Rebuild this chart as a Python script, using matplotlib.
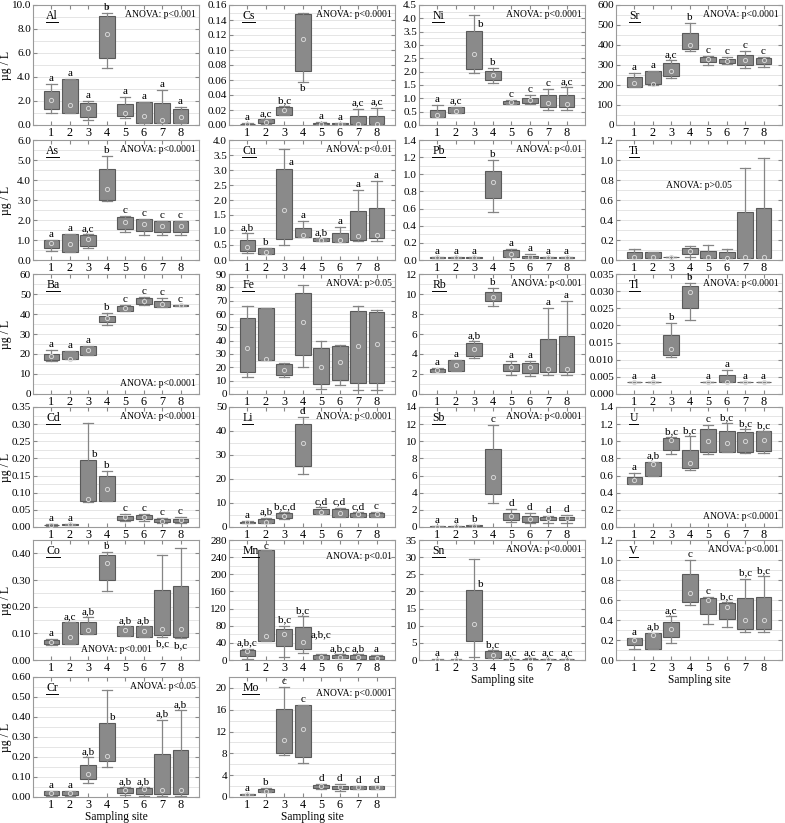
import numpy as np
import matplotlib.pyplot as plt
from matplotlib.lines import Line2D
from matplotlib.ticker import MultipleLocator, FormatStrFormatter

plt.rcParams['font.family'] = ['Liberation Serif', 'DejaVu Serif']

sites = [1, 2, 3, 4, 5, 6, 7, 8]

# each site: (low whisker, q1, median, q3, high whisker)
al = [(1.0, 1.35, 2.1, 2.86, 3.4), (1.0, 1.03, 1.65, 3.83, 3.83), (0.42, 0.69, 1.44, 1.86, 2.03),
      (4.72, 5.6, 7.6, 9.08, 9.3), (0.6, 0.78, 1.03, 1.72, 2.36), (0.14, 0.14, 0.75, 1.92, 1.92),
      (0.14, 0.14, 0.42, 1.8, 2.92), (0.14, 0.14, 0.64, 1.3, 1.53)]
cs = [(0.0005, 0.001, 0.0012, 0.002, 0.0025), (0.002, 0.003, 0.004, 0.008, 0.008),
      (0.014, 0.014, 0.0195, 0.0235, 0.025), (0.058, 0.072, 0.115, 0.148, 0.150),
      (0.001, 0.001, 0.002, 0.003, 0.0035), (0.001, 0.001, 0.002, 0.003, 0.003),
      (0.001, 0.001, 0.002, 0.012, 0.022), (0.001, 0.001, 0.002, 0.012, 0.023)]
ni = [(0.29, 0.31, 0.375, 0.56, 0.75), (0.44, 0.44, 0.51, 0.69, 0.69), (1.96, 2.1, 2.65, 3.54, 4.12),
      (1.59, 1.69, 1.86, 2.02, 2.15), (0.78, 0.8, 0.85, 0.89, 0.94), (0.8, 0.81, 0.94, 1.02, 1.12),
      (0.56, 0.69, 0.81, 1.11, 1.36), (0.56, 0.68, 0.78, 1.11, 1.41)]
sr = [(188, 192, 212, 242, 260), (200, 205, 207, 272, 272), (235, 245, 272, 310, 325),
      (370, 380, 400, 458, 510), (300, 315, 328, 340, 345), (305, 312, 322, 332, 338),
      (285, 300, 325, 350, 368), (290, 305, 325, 335, 340)]
as_ = [(0.45, 0.61, 0.86, 0.98, 0.98), (0.41, 0.41, 0.78, 1.28, 1.28), (0.58, 0.70, 1.03, 1.23, 1.28),
       (2.97, 3.02, 3.57, 4.54, 5.2), (1.41, 1.56, 1.9, 2.15, 2.2), (1.23, 1.44, 1.81, 2.07, 2.07),
       (1.23, 1.38, 1.69, 1.94, 1.94), (1.23, 1.38, 1.72, 1.94, 1.94)]
cu = [(0.22, 0.29, 0.44, 0.68, 0.89), (0.19, 0.19, 0.27, 0.40, 0.40), (0.51, 0.70, 1.66, 3.04, 3.7),
      (0.78, 0.78, 0.82, 1.06, 1.31), (0.62, 0.62, 0.68, 0.73, 0.73), (0.6, 0.6, 0.68, 0.89, 1.09),
      (0.62, 0.68, 0.81, 1.63, 2.34), (0.64, 0.73, 0.84, 1.73, 2.64)]
pb = [(0.025, 0.028, 0.03, 0.032, 0.035), (0.025, 0.028, 0.03, 0.032, 0.035),
      (0.025, 0.028, 0.03, 0.032, 0.035), (0.56, 0.72, 0.91, 1.04, 1.17),
      (0.04, 0.04, 0.065, 0.12, 0.127), (0.027, 0.027, 0.035, 0.046, 0.065),
      (0.025, 0.028, 0.03, 0.032, 0.035), (0.025, 0.028, 0.03, 0.032, 0.035)]
ti = [(0.023, 0.023, 0.033, 0.076, 0.115), (0.023, 0.023, 0.03, 0.082, 0.082),
      (0.028, 0.028, 0.03, 0.032, 0.032), (0.026, 0.056, 0.092, 0.122, 0.138),
      (0.023, 0.023, 0.026, 0.092, 0.148), (0.023, 0.023, 0.025, 0.076, 0.115),
      (0.023, 0.023, 0.026, 0.477, 0.92), (0.023, 0.023, 0.026, 0.516, 1.02)]
ba = [(16.3, 17.1, 18.8, 20.2, 21.8), (17.6, 17.6, 17.6, 21.3, 21.3), (19.3, 19.7, 22.2, 23.9, 24.2),
      (34.5, 35.8, 37.8, 39.2, 40.3), (41.7, 41.7, 43.2, 44.2, 44.5), (44.5, 44.9, 46.7, 47.9, 48.7),
      (43.4, 43.7, 44.9, 46.6, 47.9), (44.0, 44.1, 44.3, 44.5, 44.6)]
fe = [(12.6, 16.4, 34.5, 57.2, 66.3), (25.7, 25.7, 26.5, 64.3, 64.3), (12.6, 13.9, 18.1, 22.2, 23.2),
      (20.2, 29, 53.7, 75.6, 81.4), (3.8, 7.6, 20.2, 34.5, 39.6), (6.8, 10.6, 24, 35.8, 36.6),
      (3, 8.3, 36, 62.5, 66.3), (3, 8.1, 37.3, 61.8, 63)]
rb = [(2.15, 2.18, 2.35, 2.52, 2.55), (2.29, 2.29, 2.86, 3.36, 3.36), (3.6, 3.8, 4.54, 5.14, 5.28),
      (8.84, 9.3, 9.75, 10.25, 10.6), (1.92, 2.25, 2.69, 3.03, 3.29), (1.75, 2.12, 2.69, 3.13, 3.26),
      (1.92, 2.18, 2.52, 5.48, 8.57), (1.85, 2.18, 2.52, 5.82, 9.31)]
tl = [(0.0034, 0.0035, 0.0035, 0.0035, 0.0036), (0.0034, 0.0035, 0.0035, 0.0035, 0.0036),
      (0.0108, 0.0115, 0.0132, 0.0172, 0.0206), (0.0216, 0.0252, 0.0297, 0.0314, 0.0324),
      (0.0034, 0.0035, 0.0035, 0.0035, 0.0036), (0.0034, 0.0034, 0.0036, 0.0054, 0.0071),
      (0.0034, 0.0035, 0.0035, 0.0035, 0.0036), (0.0034, 0.0035, 0.0035, 0.0035, 0.0036)]
cd = [(0.004, 0.005, 0.006, 0.007, 0.008), (0.006, 0.007, 0.008, 0.009, 0.009),
      (0.072, 0.075, 0.083, 0.194, 0.304), (0.075, 0.075, 0.111, 0.150, 0.164),
      (0.017, 0.020, 0.030, 0.032, 0.037), (0.017, 0.022, 0.030, 0.036, 0.038),
      (0.0115, 0.0145, 0.018, 0.022, 0.027), (0.0115, 0.0145, 0.02, 0.024, 0.030)]
li = [(1.5, 1.8, 2.0, 2.2, 2.4), (1.8, 1.8, 2.1, 3.5, 3.9), (3.5, 3.6, 4.6, 6.0, 6.3),
      (22.1, 25.6, 34.9, 43, 45.8), (5.3, 5.3, 6.4, 7.7, 8.3), (4.0, 4.3, 6.0, 7.7, 8.0),
      (4.1, 4.3, 5.3, 6.0, 6.3), (4.0, 4.3, 5.3, 6.0, 6.3)]
sb = [(0.02, 0.03, 0.05, 0.07, 0.08), (0.03, 0.05, 0.07, 0.09, 0.1), (0.05, 0.07, 0.1, 0.18, 0.2),
      (2.82, 3.86, 5.79, 9.07, 11.9), (0.58, 0.81, 1.27, 1.66, 2.05), (0.42, 0.62, 0.97, 1.27, 1.58),
      (0.5, 0.77, 1.08, 1.2, 1.27), (0.42, 0.77, 1.08, 1.2, 1.35)]
u = [(0.505, 0.505, 0.544, 0.582, 0.629), (0.6, 0.6, 0.733, 0.764, 0.764), (0.85, 0.9, 1.014, 1.04, 1.045),
     (0.66, 0.694, 0.744, 0.9, 1.06), (0.85, 0.88, 1.0, 1.14, 1.19), (0.87, 0.88, 0.98, 1.12, 1.21),
     (0.86, 0.88, 1.0, 1.11, 1.14), (0.86, 0.887, 1.014, 1.115, 1.12)]
co = [(0.058, 0.06, 0.066, 0.076, 0.078), (0.06, 0.06, 0.085, 0.143, 0.143), (0.097, 0.097, 0.112, 0.141, 0.16),
      (0.259, 0.299, 0.363, 0.393, 0.405), (0.091, 0.091, 0.112, 0.128, 0.128), (0.088, 0.088, 0.11, 0.126, 0.126),
      (0.088, 0.093, 0.118, 0.263, 0.393), (0.081, 0.088, 0.118, 0.278, 0.42)]
mn = [(2.3, 10, 20, 23, 26.8), (44.5, 44.5, 56, 257.8, 257.8), (7.7, 33, 61.4, 71.3, 80.5),
      (16, 25.3, 43, 77.5, 102), (2.3, 2.3, 6, 11.5, 13), (3.8, 3.8, 6, 11.5, 13),
      (1, 2.3, 6, 11.5, 13.8), (1, 2.3, 5.4, 9.2, 12.3)]
sn = [(0.05, 0.08, 0.1, 0.12, 0.15), (0.05, 0.08, 0.1, 0.12, 0.15), (0.8, 5.5, 10.6, 20.3, 29.6),
      (0.6, 0.6, 1.6, 2.7, 2.9), (0.1, 0.15, 0.2, 0.3, 0.4), (0.1, 0.15, 0.25, 0.35, 0.45),
      (0.1, 0.15, 0.2, 0.3, 0.35), (0.1, 0.15, 0.2, 0.3, 0.35)]
v = [(0.108, 0.148, 0.2, 0.224, 0.224), (0.115, 0.115, 0.247, 0.273, 0.273), (0.174, 0.233, 0.306, 0.378, 0.437),
     (0.552, 0.579, 0.674, 0.865, 1.0), (0.362, 0.464, 0.6, 0.625, 0.63), (0.329, 0.414, 0.529, 0.569, 0.58),
     (0.279, 0.312, 0.398, 0.618, 0.815), (0.279, 0.306, 0.398, 0.628, 0.838)]
cr = [(0.005, 0.008, 0.02, 0.028, 0.032), (0.006, 0.011, 0.022, 0.03, 0.032), (0.07, 0.09, 0.115, 0.158, 0.198),
      (0.15, 0.182, 0.207, 0.37, 0.535), (0.012, 0.02, 0.037, 0.045, 0.05), (0.007, 0.017, 0.04, 0.045, 0.05),
      (0.003, 0.017, 0.037, 0.215, 0.387), (0.003, 0.015, 0.035, 0.237, 0.433)]
mo = [(0.4, 0.45, 0.5, 0.55, 0.6), (0.85, 0.85, 1.03, 1.5, 1.6), (7.7, 8.1, 10.4, 16.2, 20.2),
      (6.2, 7.3, 12.5, 16.8, 16.9), (1.45, 1.64, 2.06, 2.24, 2.4), (1.03, 1.45, 1.82, 2.06, 2.36),
      (1.45, 1.5, 1.75, 1.94, 2.0), (1.45, 1.5, 1.75, 1.94, 2.0)]

# post-hoc group letters per site
letters = {
    'Al': ['a', 'a', 'a', 'b', 'a', 'a', 'a', 'a'],
    'Cs': ['a', 'a,c', 'b,c', 'b', 'a', 'a', 'a,c', 'a,c'],
    'Ni': ['a', 'a,c', 'b', 'b', 'c', 'c', 'c', 'a,c'],
    'Sr': ['a', 'a', 'a,c', 'b', 'c', 'c', 'c', 'c'],
    'As': ['a', 'a', 'a,c', 'b', 'c', 'c', 'c', 'c'],
    'Cu': ['a,b', 'b', 'a', 'a', 'a,b', 'a', 'a', 'a'],
    'Pb': ['a', 'a', 'a', 'b', 'a', 'a', 'a', 'a'],
    'Ti': [''] * 8,
    'Ba': ['a', 'a', 'a', 'b', 'c', 'c', 'c', 'c'],
    'Fe': [''] * 8,
    'Rb': ['a', 'a', 'a,b', 'b', 'a', 'a', 'a', 'a'],
    'Tl': ['a', 'a', 'b', 'b', 'a', 'a', 'a', 'a'],
    'Cd': ['a', 'a', 'b', 'b', 'c', 'c', 'c', 'c'],
    'Li': ['a', 'a,b', 'b,c,d', 'd', 'c,d', 'c,d', 'c,d', 'c'],
    'Sb': ['a', 'a', 'b', 'c', 'd', 'd', 'd', 'd'],
    'U': ['a', 'a,b', 'b,c', 'b,c', 'c', 'b,c', 'b,c', 'b,c'],
    'Co': ['a', 'a,c', 'a,b', 'b', 'a,b', 'a,b', 'b,c', 'b,c'],
    'Mn': ['a,b,c', 'c', 'b,c', 'b,c', 'a,b,c', 'a,b,c', 'a,b', 'a'],
    'Sn': ['a', 'a', 'b', 'b,c', 'a,c', 'a,c', 'a,c', 'a,c'],
    'V': ['a', 'a,b', 'a,c', 'c', 'c', 'b,c', 'b,c', 'b,c'],
    'Cr': ['a', 'a', 'a,b', 'b', 'a,b', 'a,b', 'a,b', 'a,b'],
    'Mo': ['a', 'b', 'c', 'c', 'd', 'd', 'd', 'd'],
}

anova = {'Al': 'p<0.001', 'Cs': 'p<0.0001', 'Ni': 'p<0.0001', 'Sr': 'p<0.0001',
         'As': 'p<0.0001', 'Cu': 'p<0.01', 'Pb': 'p<0.01', 'Ti': 'p>0.05',
         'Ba': 'p<0.0001', 'Fe': 'p>0.05', 'Rb': 'p<0.001', 'Tl': 'p<0.0001',
         'Cd': 'p<0.0001', 'Li': 'p<0.0001', 'Sb': 'p<0.0001', 'U': 'p<0.0001',
         'Co': 'p<0.001', 'Mn': 'p<0.01', 'Sn': 'p<0.0001', 'V': 'p<0.001',
         'Cr': 'p<0.05', 'Mo': 'p<0.0001'}

# y axis: (top, label step, decimals)
yaxes = {'Al': (10, 2, 1), 'Cs': (0.16, 0.02, 2), 'Ni': (4.5, 0.5, 1), 'Sr': (600, 100, 0),
         'As': (6, 1, 1), 'Cu': (4, 0.5, 1), 'Pb': (1.4, 0.2, 1), 'Ti': (1.2, 0.2, 1),
         'Ba': (60, 10, 0), 'Fe': (90, 10, 0), 'Rb': (12, 2, 0), 'Tl': (0.035, 0.005, 3),
         'Cd': (0.35, 0.05, 2), 'Li': (50, 10, 0), 'Sb': (14, 2, 0), 'U': (1.4, 0.2, 1),
         'Co': (0.45, 0.1, 2), 'Mn': (280, 40, 0), 'Sn': (35, 5, 0), 'V': (1.2, 0.2, 1),
         'Cr': (0.6, 0.1, 2), 'Mo': (22, 4, 0)}

grid = [[('Al', al), ('Cs', cs), ('Ni', ni), ('Sr', sr)],
        [('As', as_), ('Cu', cu), ('Pb', pb), ('Ti', ti)],
        [('Ba', ba), ('Fe', fe), ('Rb', rb), ('Tl', tl)],
        [('Cd', cd), ('Li', li), ('Sb', sb), ('U', u)],
        [('Co', co), ('Mn', mn), ('Sn', sn), ('V', v)],
        [('Cr', cr), ('Mo', mo)]]

# where the ANOVA note sits (axes fraction, ha, va)
anova_pos = {'Ba': (0.98, 0.05, 'right', 'bottom'), 'U': (0.98, 0.05, 'right', 'bottom'),
             'Ti': (0.50, 0.62, 'center', 'center'), 'Co': (0.50, 0.05, 'center', 'bottom'),
             'Mn': (0.98, 0.86, 'right', 'center'), 'Mo': (0.98, 0.86, 'right', 'center')}
below = {('Cs', 4), ('Co', 7), ('Co', 8)}
beside = {('Ni', 3), ('Cu', 3), ('Cd', 3), ('Sn', 3), ('Cr', 4)}
lift = {('Mn', 5): 10, ('Mn', 2): -1.5}

W, H = 785, 823
lefts = [33, 229, 419, 616]
tops = [5, 140, 274, 407, 540, 677]
aw, ah = 166, 120

fig = plt.figure(figsize=(W / 100, H / 100), dpi=100)
labels_to_underline = []

for r, row in enumerate(grid):
    for c, (name, data) in enumerate(row):
        ax = fig.add_axes([lefts[c] / W, 1 - (tops[r] + ah) / H, aw / W, ah / H])
        stats = [dict(whislo=d[0], q1=d[1], med=d[2], q3=d[3], whishi=d[4], fliers=[]) for d in data]
        ax.bxp(stats, positions=sites, widths=0.85, patch_artist=True, showfliers=False,
               capwidths=0.55,
               boxprops=dict(facecolor='#8a8a8a', edgecolor='#5a5a5a', linewidth=0.8),
               whiskerprops=dict(color='#858585', linewidth=0.9),
               capprops=dict(color='#858585', linewidth=0.9),
               medianprops=dict(linewidth=0))
        meds = [d[2] for d in data]
        ax.plot(sites, meds, 'o', ms=3, mfc='none', mec='#d6d6d6', mew=0.7, zorder=4)

        top, step, dec = yaxes[name]
        ax.set_xlim(0, 9)
        ax.set_ylim(0, top)
        ax.yaxis.set_major_locator(MultipleLocator(step))
        ax.yaxis.set_minor_locator(MultipleLocator(step / 2))
        ax.yaxis.set_major_formatter(FormatStrFormatter('%.' + str(dec) + 'f'))
        ax.set_xticks(sites)
        ax.set_xticklabels([str(s) for s in sites])
        ax.yaxis.grid(True, which='both', color='#e0e0e0', linewidth=0.6)
        ax.set_axisbelow(True)
        for sp in ax.spines.values():
            sp.set_color('#9a9a9a')
            sp.set_linewidth(0.8)
        ax.tick_params(axis='both', which='major', direction='in', top=True, right=True,
                       length=3, color='#888888')
        ax.tick_params(axis='y', which='minor', length=0)
        ax.tick_params(axis='y', labelsize=8, pad=1.5)
        ax.tick_params(axis='x', labelsize=8.8, pad=1.5)

        for s, d, lab in zip(sites, data, letters[name]):
            if not lab:
                continue
            if (name, s) in below:
                ax.annotate(lab, (s, d[0]), xytext=(0, -2), textcoords='offset points',
                            ha='center', va='top', fontsize=8)
            elif (name, s) in beside:
                ax.annotate(lab, (s + 0.35, d[3]), xytext=(0, 2.5), textcoords='offset points',
                            ha='center', va='baseline', fontsize=8)
            else:
                ax.annotate(lab, (s, d[4]), xytext=(0, 2.2 + lift.get((name, s), 0)),
                            textcoords='offset points', ha='center', va='baseline',
                            fontsize=8, annotation_clip=False)

        x, y, ha, va = anova_pos.get(name, (0.98, 0.92, 'right', 'center'))
        ax.text(x, y, 'ANOVA: ' + anova[name], transform=ax.transAxes, ha=ha, va=va, fontsize=6.9)
        t = ax.text(0.08, 0.905, name, transform=ax.transAxes, ha='left', va='center', fontsize=8.5)
        labels_to_underline.append(t)

        if c == 0:
            ax.set_ylabel('µg / L', fontsize=8.5)
            ax.yaxis.set_label_coords(-0.125, 0.5)
        if r == 5 or (r == 4 and c >= 2):
            ax.set_xlabel('Sampling site', fontsize=8.3, labelpad=0)

# underline the element names
fig.canvas.draw()
renderer = fig.canvas.get_renderer()
for t in labels_to_underline:
    bb = t.get_window_extent(renderer).transformed(fig.transFigure.inverted())
    yl = bb.y0 + 0.0008
    fig.add_artist(Line2D([bb.x0, bb.x1], [yl, yl], color='black', lw=0.7, transform=fig.transFigure))

fig.savefig('out.png', dpi=100)
